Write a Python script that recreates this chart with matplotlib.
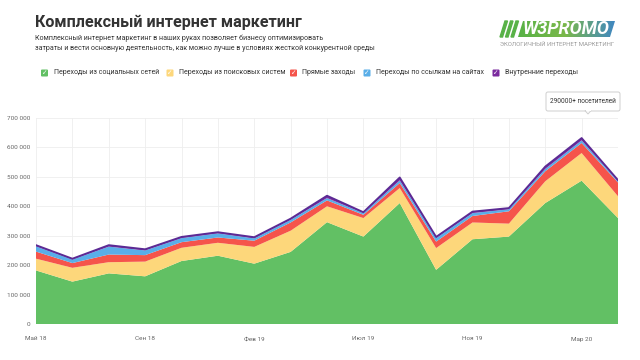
import numpy as np
import matplotlib
matplotlib.use("Agg")
import matplotlib.pyplot as plt
from matplotlib.patches import Polygon, FancyBboxPatch, Rectangle

plt.rcParams['font.family'] = ['Roboto', 'DejaVu Sans']

# data (visitors per period)
labels = ["Май 18", "", "", "Сен 18", "", "", "Фев 19", "", "", "Июл 19", "", "",
          "Ноя 19", "", "", "Мар 20", ""]
social = [182000, 144000, 172000, 162000, 214000, 232000, 205000, 245000, 346000,
          297000, 411000, 184000, 288000, 297000, 411000, 487000, 360000]
search = [40000, 47000, 38000, 50000, 45000, 44000, 57000, 72000, 54000,
          63000, 51000, 74000, 57000, 44000, 74000, 94000, 74000]
direct = [24000, 16000, 26000, 22000, 19000, 18000, 21000, 28000, 20000,
          11000, 17000, 22000, 22000, 42000, 34000, 34000, 47000]
links = [18000, 12000, 27000, 16000, 14000, 14000, 8000, 9000, 8000,
         6000, 9000, 12000, 10000, 7000, 8000, 9000, 4000]
internal = [4000, 3000, 5000, 4000, 4000, 4000, 4000, 4000, 8000,
            3000, 10000, 4000, 5000, 4000, 8000, 8000, 4000]

series_names = ["Переходы из социальных сетей", "Переходы из поисковых систем",
                "Прямые заходы", "Переходы по ссылкам на сайтах", "Внутренние переходы"]
colors = ["#62c064", "#fdd77b", "#f5544b", "#5aaee8", "#7b2a9e"]

fig = plt.figure(figsize=(6.4, 3.6), dpi=100)
ax = fig.add_axes([36 / 640, 1 - 324 / 360, 582 / 640, 206 / 360])

x = np.arange(len(social))
ax.stackplot(x, social, search, direct, links, internal, colors=colors, linewidth=0)
total = np.sum([social, search, direct, links, internal], axis=0)
ax.plot(x, total, color="#5b2a94", lw=1.3)

ax.set_xlim(0, len(x) - 1)
ax.set_ylim(0, 700000)
ax.set_yticks(np.arange(0, 700001, 100000))
ax.set_yticklabels(["0"] + ["%d 000" % (v // 1000) for v in range(100000, 700001, 100000)])
ax.set_xticks(x)
ax.set_xticklabels(labels)
ax.tick_params(axis="y", length=0, labelsize=4.6, colors="#666666", pad=4)
ax.tick_params(axis="x", length=0, labelsize=4.6, colors="#666666", pad=9)
ax.grid(True, color="#eeeeee", lw=0.6)
ax.set_axisbelow(True)
for s in ax.spines.values():
    s.set_visible(False)

# overlay in pixel coords for headers
ov = fig.add_axes([0, 0, 1, 1], zorder=5)
ov.set_xlim(0, 640)
ov.set_ylim(360, 0)
ov.axis("off")

ov.text(35, 22, "Комплексный интернет маркетинг", fontsize=11.6, fontweight="bold",
        color="#333333", va="center")
ov.text(35, 38, "Комплексный интернет маркетинг в наших руках позволяет бизнесу оптимизировать",
        fontsize=5.1, color="#333333", va="center")
ov.text(35, 48.5, "затраты и вести основную деятельность, как можно лучше в условиях жесткой конкурентной среды",
        fontsize=5.1, color="#333333", va="center")

# logo
grad = np.linspace(0, 1, 256).reshape(1, -1)
cmap = matplotlib.colors.LinearSegmentedColormap.from_list("lg", ["#55b146", "#7ab84a", "#3f86c4"])
box = Polygon([[518, 37], [523, 21], [615, 21], [610, 37]], closed=True, transform=ov.transData)
im = ov.imshow(grad, extent=[514, 616, 37, 21], cmap=cmap, aspect="auto", zorder=6)
im.set_clip_path(box)
for i in range(3):
    x0 = 500 + i * 5.5
    ov.add_patch(Polygon([[x0, 37], [x0 + 5, 21], [x0 + 7.5, 21], [x0 + 2.5, 37]],
                         color="#58b247", zorder=6))
ov.text(566, 29, "W3PROMO", fontsize=13, fontweight="bold", style="italic",
        color="white", ha="center", va="center", zorder=7)
ov.text(557, 45, "ЭКОЛОГИЧНЫЙ ИНТЕРНЕТ МАРКЕТИНГ", fontsize=4.3, color="#9a9a9a",
        ha="center", va="center")

# legend
leg_x = [44.5, 170, 293.5, 367, 496]
for lx, c, name in zip(leg_x, colors, series_names):
    ov.add_patch(FancyBboxPatch((lx - 3.5, 69.5), 7, 7, boxstyle="round,pad=0,rounding_size=1",
                                fc=c, ec="none"))
    ov.text(lx, 73.3, "✓", fontsize=4.8, color="white", ha="center", va="center",
            family=["DejaVu Sans"])
    ov.text(lx + 9, 73, name, fontsize=5.05, color="#333333", va="center")

# tooltip
ov.add_patch(FancyBboxPatch((546, 92), 74, 19, boxstyle="round,pad=0,rounding_size=2",
                            fc="white", ec="#cfcfcf", lw=0.7))
ov.add_patch(Polygon([[585, 110.6], [591, 110.6], [588, 114]], closed=True,
                     fc="white", ec="#cfcfcf", lw=0.7))
ov.add_patch(Rectangle((585.5, 109.5), 5, 1.5, fc="white", ec="none"))
ov.text(583, 101.5, "290000+ посетителей", fontsize=4.7, color="#333333",
        ha="center", va="center")

fig.savefig("out.png", dpi=100)
